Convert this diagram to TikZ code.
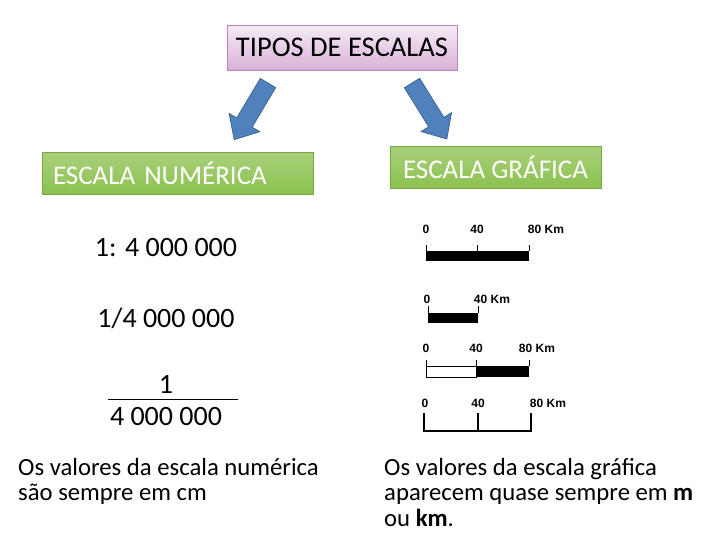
\documentclass[tikz,border=0pt]{standalone}
\usepackage{fontspec}
\setmainfont{Carlito}
\newfontfamily\arialf{Liberation Sans}
\definecolor{blu}{HTML}{4F81BD}
\definecolor{grn}{HTML}{8CC150}
\definecolor{grnd}{HTML}{76A83E}
\tikzset{
 greenbox/.style={draw=grnd,top color=grn!75!white,bottom color=grn,text=white,font=\fontsize{27}{30}\selectfont,minimum height=42pt,inner sep=0pt},
 bigarrow/.style={fill=blu,draw=blu!70!black,line width=0.6pt},
 num/.style={font=\fontsize{28}{32}\selectfont},
 body/.style={font=\fontsize{24.7}{25.5}\selectfont,align=left,anchor=north west,inner sep=0pt},
 lab/.style={font=\arialf\bfseries\fontsize{12}{14}\selectfont,inner sep=0pt},
}
\begin{document}
\begin{tikzpicture}[x=1pt,y=-1pt]
\useasboundingbox[fill=white] (0,0) rectangle (728,546);
\node[draw=violet!50,top color=violet!8,bottom color=violet!30,minimum width=230pt,minimum height=45pt,font=\fontsize{28.5}{32}\selectfont] (t) at (342,47.5) {TIPOS DE ESCALAS};
\coordinate (s1) at (268,83);
\coordinate (s2) at (412,83);
\draw[bigarrow,shift={(s1)},rotate=-120.8] (0,-9) -- (46,-9) -- (46,-18) -- (66,0) -- (46,18) -- (46,9) -- (0,9) -- cycle;
\draw[bigarrow,shift={(s2)},rotate=-58.1] (0,-9) -- (46,-9) -- (46,-18) -- (66,0) -- (46,18) -- (46,9) -- (0,9) -- cycle;
\node[greenbox,minimum width=271pt,text width=249pt,align=left] (n) at (177.5,173) {ESCALA NUMÉRICA};
\node[greenbox,minimum width=211pt] (g) at (495.5,167) {ESCALA GRÁFICA};
\node[num] (n1) at (166,248) {1: 4 000 000};
\node[num] (n2) at (166,318) {1/4 000 000};
\node[num] (n3) at (166,384) {1};
\draw[line width=0.8pt] (108,399) -- (238,399);
\node[num] (n4) at (166,417) {4 000 000};
% bar 1
\node[lab] at (426,229) {0};\node[lab] at (477,229) {40};\node[lab] at (546,229) {80 Km};
\fill (426,251) rectangle (529,261);
\draw[line width=0.6pt] (426,245) -- (426,251) (477,245) -- (477,251) (529,245) -- (529,251);
% bar 2
\node[lab] at (427,299) {0};\node[lab] at (492,299) {40 Km};
\fill (428,313) rectangle (478,323);
\draw[line width=0.6pt] (428,306) -- (428,313) (478,306) -- (478,313);
% bar 3
\node[lab] at (426,348) {0};\node[lab] at (476,348) {40};\node[lab] at (537,348) {80 Km};
\draw[line width=0.6pt] (426,366) rectangle (476,377);
\fill (476,366) rectangle (529,377);
\draw[line width=0.6pt] (426,360) -- (426,366) (476,360) -- (476,366) (529,360) -- (529,366);
% bar 4
\node[lab] at (425,403) {0};\node[lab] at (478,403) {40};\node[lab] at (548,403) {80 Km};
\draw[line width=2pt] (424,413) -- (424,431) -- (531,431) -- (531,413) (478,413) -- (478,431);
\node[body] (b1) at (18,458) {Os valores da escala numérica\\são sempre em cm};
\node[body] (b2) at (384,458) {Os valores da escala gráfica\\aparecem quase sempre em \textbf{m}\\ou \textbf{km}.};
\end{tikzpicture}
\end{document}
